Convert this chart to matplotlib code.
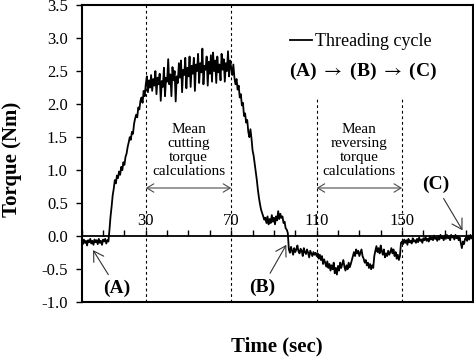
import numpy as np
import matplotlib.pyplot as plt

plt.rcParams['font.family'] = ['Liberation Serif', 'DejaVu Serif']
plt.rcParams['mathtext.fontset'] = 'stix'

# torque trace, one reading every 0.5 s (Nm)
torque = [
    # 0 - 12.5 s, idle before threading
    -0.08, -0.12, -0.05, -0.10, -0.07, -0.14, -0.06, -0.09, -0.04, -0.11,
    -0.07, -0.13, -0.05, -0.09, -0.06, -0.12, -0.04, -0.10, -0.07, -0.13,
    -0.05, -0.08, -0.04, -0.11, -0.06, -0.08,
    # 13 - 29.5 s, tap engaging
    0.10, 0.30, 0.45, 0.62, 0.72, 0.85, 0.80, 0.92, 0.88, 0.98,
    0.93, 1.05, 1.00, 1.12, 1.08, 1.20, 1.25, 1.35, 1.42, 1.50,
    1.46, 1.58, 1.55, 1.70, 1.78, 1.84, 1.80, 1.95, 1.92, 2.05,
    2.10, 2.02, 2.20, 2.12,
    # 30 - 69.5 s, cutting
    2.30, 2.42, 2.18, 2.36, 2.25, 2.44, 2.20, 2.38,
    2.28, 2.50, 2.15, 2.40, 2.30, 2.46, 2.05, 2.35,
    2.26, 2.55, 2.12, 2.40, 2.34, 2.68, 2.30, 2.45,
    2.12, 2.56, 2.36, 2.50, 2.04, 2.42, 2.32, 2.62,
    2.40, 2.66, 2.18, 2.52, 2.44, 2.70, 2.24, 2.55,
    2.42, 2.72, 2.26, 2.58, 2.46, 2.70, 2.20, 2.60,
    2.50, 2.76, 2.32, 2.62, 2.48, 2.84, 2.30, 2.58,
    2.52, 2.72, 2.28, 2.64, 2.46, 2.74, 2.34, 2.78,
    2.50, 2.66, 2.32, 2.72, 2.48, 2.60, 2.36, 2.76,
    2.52, 2.68, 2.34, 2.62, 2.50, 2.80, 2.42, 2.66,
    # 70 - 86.5 s, run-out
    2.55, 2.44, 2.60, 2.40, 2.30, 2.38, 2.22, 2.28,
    2.10, 2.15, 1.98, 2.02, 1.82, 1.86, 1.72, 1.76,
    1.58, 1.50, 1.62, 1.48, 1.30, 1.22, 1.10, 0.98,
    0.85, 0.70, 0.58, 0.48, 0.40, 0.35, 0.30, 0.25,
    0.28, 0.20,
    # 87 - 96.5 s
    0.30, 0.18, 0.26, 0.20, 0.32, 0.22, 0.28, 0.18, 0.30, 0.24,
    0.38, 0.26, 0.34, 0.28, 0.30, 0.20, 0.22, 0.12, 0.10, 0.05,
    # 97 - 109.5 s, reversing
    -0.20, -0.25, -0.16, -0.22, -0.28, -0.18, -0.24, -0.20, -0.14, -0.23,
    -0.26, -0.19, -0.22, -0.30, -0.18, -0.24, -0.27, -0.20, -0.25, -0.32,
    -0.22, -0.26, -0.30, -0.24, -0.28, -0.25,
    # 110 - 149.5 s
    -0.30, -0.26, -0.34, -0.28, -0.36, -0.30, -0.42, -0.35, -0.40, -0.46,
    -0.38, -0.48, -0.42, -0.52, -0.44, -0.50, -0.40, -0.56, -0.48, -0.58,
    -0.45, -0.52, -0.40, -0.48, -0.42, -0.36, -0.46, -0.52, -0.44, -0.50,
    -0.40, -0.47, -0.42, -0.36, -0.30, -0.24, -0.30, -0.20, -0.26, -0.22,
    -0.30, -0.25, -0.20, -0.30, -0.34, -0.40, -0.36, -0.44, -0.40, -0.48,
    -0.42, -0.50, -0.44, -0.48, -0.30, -0.22, -0.15, -0.24, -0.18, -0.26,
    -0.14, -0.22, -0.28, -0.20, -0.32, -0.26, -0.30, -0.22, -0.28, -0.24,
    -0.18, -0.26, -0.20, -0.30, -0.24, -0.34, -0.28, -0.36, -0.30, -0.10,
    # 150 - 182.5 s, tap withdrawn
    -0.08, -0.12, -0.05, -0.10, -0.06, -0.13, -0.04, -0.09, -0.07, -0.11,
    -0.03, -0.08, -0.06, -0.10, -0.04, -0.09, -0.02, -0.07, -0.05, -0.10,
    -0.03, -0.06, -0.01, -0.07, -0.04, -0.08, 0.00, -0.05, -0.02, -0.06,
    0.01, -0.04, -0.02, -0.07, 0.00, -0.05, 0.02, -0.03, -0.01, -0.06,
    0.01, -0.04, 0.02, -0.03, -0.01, -0.06, 0.02, -0.02, 0.00, -0.05,
    0.02, -0.03, 0.00, -0.06, -0.02, -0.10, -0.18, -0.08, -0.12, -0.04,
    -0.02, -0.07, 0.01, -0.05, 0.02, -0.03,
]
time = np.arange(len(torque)) * 0.5

cut_window = [30, 70]
rev_window = [110, 150]
labelled_ticks = [30, 70, 110, 150]
y_ticks = [-1.0, -0.5, 0.0, 0.5, 1.0, 1.5, 2.0, 2.5, 3.0, 3.5]

fig = plt.figure(figsize=(4.74, 3.58), dpi=100)
ax = fig.add_axes([0.1724, 0.1556, 0.8245, 0.8304])

ax.plot(time, torque, color='k', lw=1.3, label='Threading cycle')

ax.set_xlim(0, 183)
ax.set_ylim(-1.0, 3.5)

# frame, with the time axis running along zero
for side in ['top', 'left', 'right']:
    ax.spines[side].set_linewidth(1.5)
ax.spines['bottom'].set_position(('data', 0))
ax.spines['bottom'].set_linewidth(1.3)
ax.axhline(-1.0, color='k', lw=1.5, clip_on=False)

xt = list(range(0, 190, 10))
ax.set_xticks(xt)
ax.set_xticklabels([str(t) if t in labelled_ticks else '' for t in xt])
ax.tick_params(axis='x', direction='in', length=4, width=1, pad=-17, labelsize=12)
ax.set_yticks(y_ticks)
ax.set_yticklabels([f'{v:.1f}' for v in y_ticks])
ax.tick_params(axis='y', direction='out', length=4, width=1, pad=6, labelsize=12)

ax.set_xlabel('Time (sec)', fontsize=15, fontweight='bold')
ax.xaxis.set_label_coords(0.5, -0.115)
ax.set_ylabel('Torque (Nm)', fontsize=15, fontweight='bold')
ax.yaxis.set_label_coords(-0.153, 0.48)

# calculation windows
ax.vlines(cut_window, -1.0, 3.5, colors='k', linestyles=(0, (2.5, 2.5)), lw=0.8)
ax.vlines(rev_window, -1.0, 2.1, colors='k', linestyles=(0, (2.5, 2.5)), lw=0.8)
arr = dict(arrowstyle='<->,head_length=0.5,head_width=0.3', color='0.3', lw=0.8,
           shrinkA=0, shrinkB=0)
ax.annotate('', xy=(cut_window[0], 0.73), xytext=(cut_window[1], 0.73), arrowprops=arr)
ax.annotate('', xy=(rev_window[0], 0.73), xytext=(rev_window[1], 0.73), arrowprops=arr)
ax.text(np.mean(cut_window), 1.30, 'Mean\ncutting\ntorque\ncalculations',
        ha='center', va='center', fontsize=11, linespacing=1.1)
ax.text(np.mean(rev_window), 1.30, 'Mean\nreversing\ntorque\ncalculations',
        ha='center', va='center', fontsize=11, linespacing=1.1)

# cycle stages
pt = dict(arrowstyle='->,head_length=0.5,head_width=0.3', color='0.2', lw=0.8, shrinkB=0)
ax.annotate('(A)', xy=(5.3, -0.21), xytext=(16.5, -0.79), ha='center', va='center',
            fontsize=14, fontweight='bold', arrowprops=pt)
ax.annotate('(B)', xy=(95.8, -0.13), xytext=(84.5, -0.77), ha='center', va='center',
            fontsize=14, fontweight='bold', arrowprops=pt)
ax.annotate('(C)', xy=(178.3, 0.09), xytext=(165.6, 0.78), ha='center', va='center',
            fontsize=14, fontweight='bold', arrowprops=pt)

ax.legend(loc='center left', bbox_to_anchor=(0.533, 0.876), frameon=False,
          handlelength=1.2, handletextpad=0.2, borderpad=0, borderaxespad=0,
          fontsize=13)
ax.text(132, 2.49, r'(A) $\rightarrow$ (B) $\rightarrow$ (C)', ha='center', va='center',
        fontsize=14, fontweight='bold')

fig.savefig('out.png', dpi=100)
